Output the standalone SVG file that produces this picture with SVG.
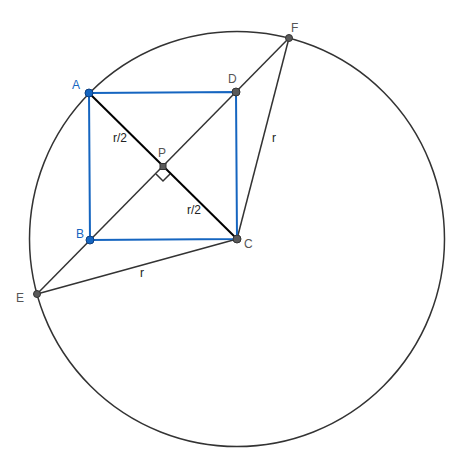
<svg xmlns="http://www.w3.org/2000/svg" width="474" height="467" viewBox="0 0 474 467">
<style>
.thin{stroke:#333;stroke-width:1.5;fill:none}
.blue{stroke:#1565c0;stroke-width:2;fill:none}
.blk{stroke:#000;stroke-width:2;fill:none}
.pb{fill:#1565c0;stroke:#0d3f80;stroke-width:1}
.pg{fill:#5a5a5a;stroke:#333;stroke-width:1}
text{font-family:"Liberation Sans",Arial,sans-serif;font-size:12px}
.lb{fill:#1565c0}
.lg{fill:#555}
.lk{fill:#222}
</style>
<rect width="474" height="467" fill="#fff"/>
<g id="connectors">
<circle class="thin" cx="237" cy="239" r="207.5"/>
<line class="thin" x1="37" y1="294" x2="289" y2="38"/>
<line class="thin" x1="37" y1="294" x2="237" y2="239"/>
<line class="thin" x1="289" y1="38" x2="237" y2="239"/>
<polyline class="thin" points="156,174 163,181 170,174"/>
<polygon class="blue" points="89,93 236,92 237,239 90,240"/>
<line class="blk" x1="89" y1="93" x2="237" y2="239"/>
</g>
<g id="labels">
<text class="lk" x="113" y="142">r/2</text>
<text class="lk" x="187" y="214">r/2</text>
<text class="lk" x="272" y="142">r</text>
<text class="lk" x="140" y="277">r</text>
</g>
<g id="A"><circle class="pb" cx="89" cy="93" r="4"/><text class="lb" x="72" y="89">A</text></g>
<g id="B"><circle class="pb" cx="90" cy="240" r="4"/><text class="lb" x="76" y="238">B</text></g>
<g id="C"><circle class="pg" cx="237" cy="239" r="4"/><text class="lg" x="244" y="248">C</text></g>
<g id="D"><circle class="pg" cx="236" cy="92" r="4"/><text class="lg" x="228" y="83">D</text></g>
<g id="E"><circle class="pg" cx="37" cy="294" r="3.5"/><text class="lg" x="16" y="302">E</text></g>
<g id="F"><circle class="pg" cx="289" cy="38" r="3.5"/><text class="lg" x="291" y="32">F</text></g>
<g id="P"><rect class="pg" x="160" y="163.5" width="6" height="6"/><text class="lg" x="158" y="157">P</text></g>
</svg>
